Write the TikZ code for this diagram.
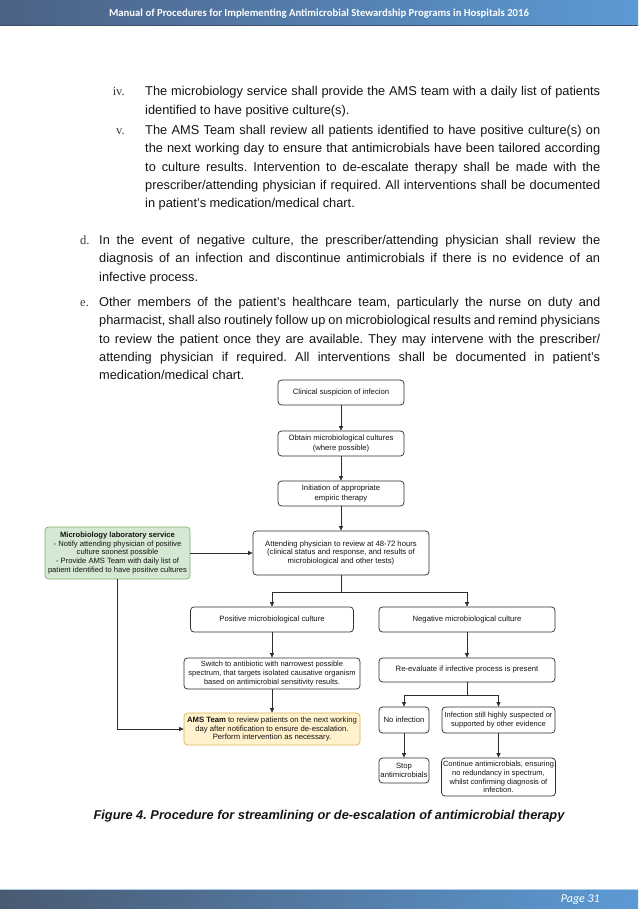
\documentclass[tikz,border=0pt]{standalone}
\usepackage{fontspec}
\setmainfont{Liberation Sans}
\newfontfamily\tnr{Liberation Serif}
\newfontfamily\calib{Carlito}
\usetikzlibrary{arrows.meta,calc}
\frenchspacing
\definecolor{hdark}{HTML}{4C6285}
\definecolor{hlight}{HTML}{5C9AD5}
\definecolor{fdark}{HTML}{4A5A72}
\definecolor{fmid}{HTML}{5579A6}
\definecolor{gfill}{HTML}{D5E8D4}
\definecolor{gdraw}{HTML}{82B366}
\definecolor{yfill}{HTML}{FFF2CC}
\definecolor{ydraw}{HTML}{D6B656}
\definecolor{boxc}{HTML}{2E2E2E}
\definecolor{txt}{HTML}{141414}
\newcommand{\flowfont}{\fontsize{7.7}{8.7}\selectfont}
\newcommand{\bodyfont}{\fontsize{12.8}{18.3}\selectfont\tolerance=10000\hyphenpenalty=10000\frenchspacing}
\tikzset{
  box/.style={draw=boxc, rounded corners=3.5pt, fill=white, line width=0.75pt,
    align=center, inner xsep=0pt, inner ysep=0pt, font=\flowfont, text=txt},
  arr/.style={draw=boxc, line width=0.75pt, -{Triangle[length=4.5pt,width=4pt]}},
  ln/.style={draw=boxc, line width=0.75pt},
  bodytext/.style={text width=#1, align=justify, inner sep=0pt, font=\bodyfont, text=txt, anchor=base west},
  lbl/.style={inner sep=0pt, font=\tnr\fontsize{12.5}{14}\selectfont, text=txt!85, anchor=base east},
}
\begin{document}
\begin{tikzpicture}[x=1pt,y=-1pt]
\useasboundingbox (0,0) rectangle (638,909);
% header
\shade[left color=hdark, right color=hlight] (0,0) rectangle (638,26);
\draw[color=hdark!80!black, line width=1pt] (0,26) -- (638,26);
\node[font=\calib\bfseries\fontsize{10.7}{12}\selectfont, text=white, anchor=base, inner sep=0pt] (head) at (319,17)
  {Manual of Procedures for Implementing Antimicrobial Stewardship Programs in Hospitals 2016};
% footer
\shade[left color=fdark, middle color=fmid, right color=hlight] (0,889) rectangle (638,909);
\draw[color=hlight!50!white, line width=1pt] (0,889) -- (638,889);
\node[font=\calib\itshape\fontsize{12}{14}\selectfont, text=white, anchor=base east, inner sep=0pt] (page) at (600,902) {Page 31};

% body text
\node[lbl] (ivl) at (125,96) {iv.};
\node[bodytext=455pt] (iv) at (145,96) {The microbiology service shall provide the AMS team with a daily list of patients\linebreak identified to have positive culture(s).};
\node[lbl] (vl) at (125,134.5) {v.};
\node[bodytext=455pt] (v) at (145,134.5) {The AMS Team shall review all patients identified to have positive culture(s) on\linebreak the next working day to ensure that antimicrobials have been tailored according\linebreak to culture results. Intervention to de-escalate therapy shall be made with the\linebreak prescriber/attending physician if required. All interventions shall be documented\linebreak in patient’s medication/medical chart.};
\node[lbl, anchor=base west] (dl) at (80,244.5) {d.};
\node[bodytext=501pt] (d) at (99,244.5) {In the event of negative culture, the prescriber/attending physician shall review the\linebreak diagnosis of an infection and discontinue antimicrobials if there is no evidence of an\linebreak infective process.};
\node[lbl, anchor=base west] (el) at (80,306.5) {e.};
\node[bodytext=501pt] (e) at (99,306.5) {Other members of the patient’s healthcare team, particularly the nurse on duty and\linebreak pharmacist, shall also routinely follow up on microbiological results and remind physicians\linebreak to review the patient once they are available. They may intervene with the prescriber/\linebreak attending physician if required. All interventions shall be documented in patient’s\linebreak medication/medical chart.};

% flowchart
\node[box, minimum width=126pt, minimum height=25pt] (b1) at (341,392.5) {Clinical suspicion of infecion};
\node[box, minimum width=126pt, minimum height=25pt, font=\fontsize{7.7}{10}\selectfont] (b2) at (341,443.5) {Obtain microbiological cultures\\(where possible)};
\node[box, minimum width=126pt, minimum height=25pt, font=\fontsize{7.7}{9.2}\selectfont] (b3) at (341,493.5) {Initiation of appropriate\\empiric therapy};
\node[box, fill=gfill, draw=gdraw, minimum width=145pt, minimum height=52pt, font=\fontsize{7.6}{8.6}\selectfont] (mic) at (117.5,553) {\textbf{Microbiology laboratory service}\\- Notify attending physician of positive\\culture soonest possible\\- Provide AMS Team with daily list of\\patient identified to have positive cultures};
\node[box, minimum width=176pt, minimum height=44pt] (att) at (341,553) {Attending physician to review at 48-72 hours\\(clinical status and response, and results of\\microbiological and other tests)};
\node[box, minimum width=163pt, minimum height=25pt] (pos) at (272,619.5) {Positive microbiological culture};
\node[box, minimum width=176pt, minimum height=25pt] (neg) at (467,619.5) {Negative microbiological culture};
\node[box, minimum width=176pt, minimum height=31pt, font=\fontsize{7.5}{8.7}\selectfont] (sw) at (272,673.5) {Switch to antibiotic with narrowest possible\\spectrum, that targets isolated causative organism\\based on antimicrobial sensitivity results.};
\node[box, minimum width=176pt, minimum height=24pt] (rev) at (467,670) {Re-evaluate if infective process is present};
\node[box, fill=yfill, draw=ydraw, minimum width=176pt, minimum height=32pt] (ams) at (272,729) {\textbf{AMS Team} to review patients on the next working\\day after notification to ensure de-escalation.\\Perform intervention as necessary.};
\node[box, minimum width=50pt, minimum height=26pt] (noinf) at (404,720) {No infection};
\node[box, minimum width=113pt, minimum height=26pt, font=\fontsize{7.5}{8.7}\selectfont] (inf) at (498.5,720) {Infection still highly suspected or\\supported by other evidence};
\node[box, minimum width=50pt, minimum height=25pt] (stop) at (404,770.5) {Stop\\antimicrobials};
\node[box, minimum width=114pt, minimum height=38pt, font=\fontsize{7.5}{8.7}\selectfont] (cont) at (498.5,777) {Continue antimicrobials, ensuring\\no redundancy in spectrum,\\whilst confirming diagnosis of\\infection.};

\coordinate (j1) at (341,592);
\coordinate (j2) at (467,695);
\draw[arr] (b1) -- (b2);
\draw[arr] (b2) -- (b3);
\draw[arr] (b3) -- (att);
\draw[arr] (mic) -- (att);
\draw[ln] (att.south) -- (j1);
\draw[arr] (j1) -| (pos.north);
\draw[arr] (j1) -| (neg.north);
\draw[arr] (pos) -- (sw);
\draw[arr] (sw) -- (ams);
\draw[arr] (neg) -- (rev);
\draw[ln] (rev.south) -- (j2);
\draw[arr] (j2) -| (noinf.north);
\draw[arr] (j2) -| (inf.north);
\draw[arr] (noinf) -- (stop);
\draw[arr] (inf) -- (cont);
\draw[arr] (mic.south) |- (ams.west);

% caption
\node[font=\bfseries\itshape\fontsize{12.8}{15}\selectfont, text=txt, anchor=base, inner sep=0pt] (cap) at (329,819.5) {Figure 4. Procedure for streamlining or de-escalation of antimicrobial therapy};
\end{tikzpicture}
\end{document}
